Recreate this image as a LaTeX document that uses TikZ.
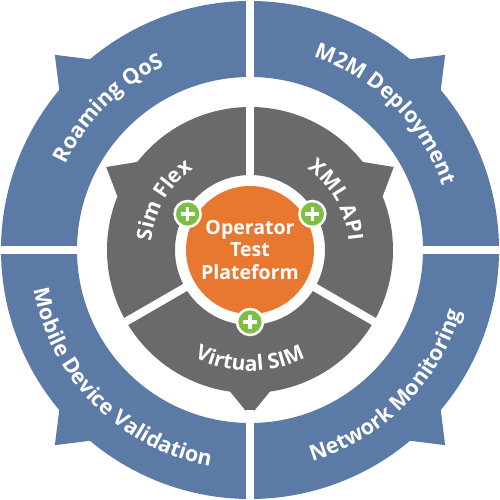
\documentclass[tikz,border=0pt]{standalone}
\usepackage{fontspec}
\setmainfont{Open Sans}
\usetikzlibrary{decorations.text}
\definecolor{ringblue}{RGB}{91,122,166}
\definecolor{ringgray}{RGB}{106,106,108}
\definecolor{coreorange}{RGB}{232,120,48}
\definecolor{plusgreen}{RGB}{125,190,68}
\newcommand\ringseg[7]{%
  \pgfmathsetmacro\segmid{(#2+#3)/2}%
  \pgfmathsetmacro\segA{\segmid-#7}%
  \pgfmathsetmacro\segB{\segmid+#7}%
  \fill[#1] ([shift={(#2:#5)}]c) arc[start angle=#2, end angle=\segA, radius=#5]
    -- ([shift={(\segmid:#6)}]c) -- ([shift={(\segB:#5)}]c)
    arc[start angle=\segB, end angle=#3, radius=#5]
    -- ([shift={(#3:#4)}]c) arc[start angle=#3, end angle=#2, radius=#4] -- cycle;}
\newcommand\arclabel[5]{%
  \path[decorate, decoration={text along path, text align=center,
    text={|\bfseries\fontsize{#4}{#4}\selectfont\color{white}|#5}}]
    ([shift={(#1:#3)}]c) arc[start angle=#1, end angle=#2, radius=#3];}
\tikzset{
  gapline/.style={white, line width=8pt},
  plusbadge/.style={circle, fill=plusgreen, draw=white, line width=2.5pt,
    minimum size=26pt, inner sep=0pt,
    path picture={\draw[white, line width=3.5pt]
      ([xshift=-7pt]path picture bounding box.center) -- ([xshift=7pt]path picture bounding box.center)
      ([yshift=-7pt]path picture bounding box.center) -- ([yshift=7pt]path picture bounding box.center);}},
  corestyle/.style={circle, fill=coreorange, minimum size=128pt, inner sep=0pt,
    text=white, align=center, font=\bfseries\fontsize{19.5}{22.5}\selectfont}
}
\begin{document}
\begin{tikzpicture}[x=1pt,y=1pt]
\useasboundingbox (0,0) rectangle (500,500);
\fill[white] (0,0) rectangle (500,500);
\coordinate (c) at (250,250);
% outer blue ring
\ringseg{ringblue}{0}{90}{173}{249}{276}{5}
\ringseg{ringblue}{90}{180}{173}{249}{276}{5}
\ringseg{ringblue}{180}{270}{173}{249}{276}{5}
\ringseg{ringblue}{270}{360}{173}{249}{276}{5}
% gray ring
\ringseg{ringgray}{-30}{90}{75}{143}{166}{8}
\ringseg{ringgray}{90}{210}{75}{143}{166}{8}
\ringseg{ringgray}{210}{330}{75}{143}{166}{8}
% gaps
\foreach \a in {0,90,180,270}
  \draw[gapline] ([shift={(\a:160)}]c) -- ([shift={(\a:262)}]c);
\foreach \a in {90,210,330}
  \draw[gapline] ([shift={(\a:70)}]c) -- ([shift={(\a:160)}]c);
% core
\node[corestyle] (core) at (c) {Operator\\Test\\Plateform};
% plus badges
\node[plusbadge] (plusL) at ([shift={(150:72)}]c) {};
\node[plusbadge] (plusR) at ([shift={(30:72)}]c) {};
\node[plusbadge] (plusB) at ([shift={(270:72)}]c) {};
% labels
\arclabel{180}{90}{203}{21.5}{Roaming QoS}
\arclabel{90}{0}{203}{21.5}{M2M Deployment}
\arclabel{180}{270}{220}{21.5}{Mobile Device Validation}
\arclabel{270}{360}{220}{21.5}{Network Monitoring}
\arclabel{210}{90}{99}{21}{Sim Flex}
\arclabel{90}{-30}{99}{21}{XML API}
\arclabel{210}{330}{121}{21}{Virtual SIM}
\end{tikzpicture}
\end{document}
